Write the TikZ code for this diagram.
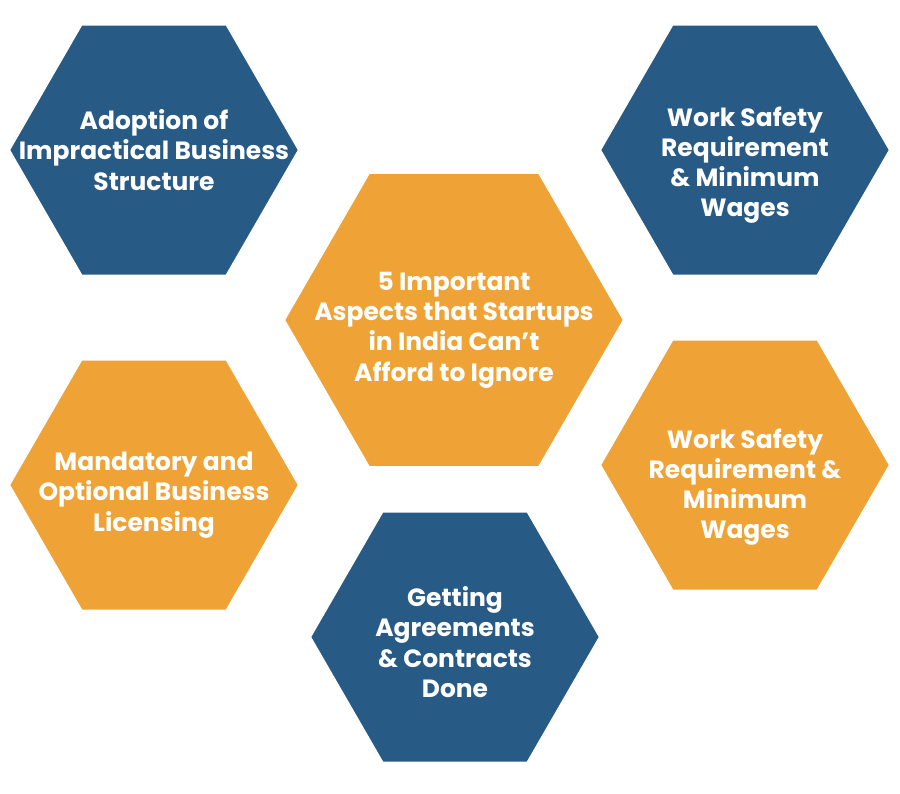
\documentclass[tikz,border=0pt]{standalone}
\usepackage{fontspec}
\setmainfont{Poppins}
\usetikzlibrary{shapes.geometric,shadows}
\definecolor{hexblue}{HTML}{285A86}
\definecolor{hexorange}{HTML}{EFA336}
\tikzset{
  hexcell/.style={regular polygon, regular polygon sides=6, minimum size=2.92cm,
    inner sep=0pt, draw=white, line width=1.1pt,
    drop shadow={opacity=0.35, shadow xshift=0.2pt, shadow yshift=-0.3pt}},
  bluecell/.style={hexcell, fill=hexblue},
  orangecell/.style={hexcell, fill=hexorange},
  bigcell/.style={minimum size=3.42cm},
  celltext/.style={text=white, align=center, inner sep=0pt,
    font=\fontsize{7.1}{8.6}\selectfont\bfseries}
}
\begin{document}
\begin{tikzpicture}
\useasboundingbox (0,0) rectangle (9,-7.93);
% outer ring
\node [bluecell] (structure) at (1.54,-1.50) {};
\node [bluecell] (safetyA) at (7.45,-1.50) {};
\node [orangecell] (licensing) at (1.54,-4.85) {};
\node [orangecell] (safetyB) at (7.45,-4.65) {};
\node [bluecell] (contracts) at (4.55,-6.37) {};
% centre
\node [orangecell, bigcell] (aspects) at (4.54,-3.20) {};
% texts
\node [celltext] (structureT) at (structure) {Adoption of\\Impractical Business\\Structure};
\node [celltext, yshift=-0.15cm] (safetyAT) at (safetyA) {Work Safety\\Requirement\\\& Minimum\\Wages};
\node [celltext, yshift=-0.1cm] (licensingT) at (licensing) {Mandatory and\\Optional Business\\Licensing};
\node [celltext, yshift=-0.22cm] (safetyBT) at (safetyB) {Work Safety\\Requirement \&\\Minimum\\Wages};
\node [celltext, yshift=-0.05cm] (contractsT) at (contracts) {Getting\\Agreements\\\& Contracts\\Done};
\node [celltext, yshift=-0.1cm] (aspectsT) at (aspects) {5 Important\\Aspects that Startups\\in India Can’t\\Afford to Ignore};
\end{tikzpicture}
\end{document}
